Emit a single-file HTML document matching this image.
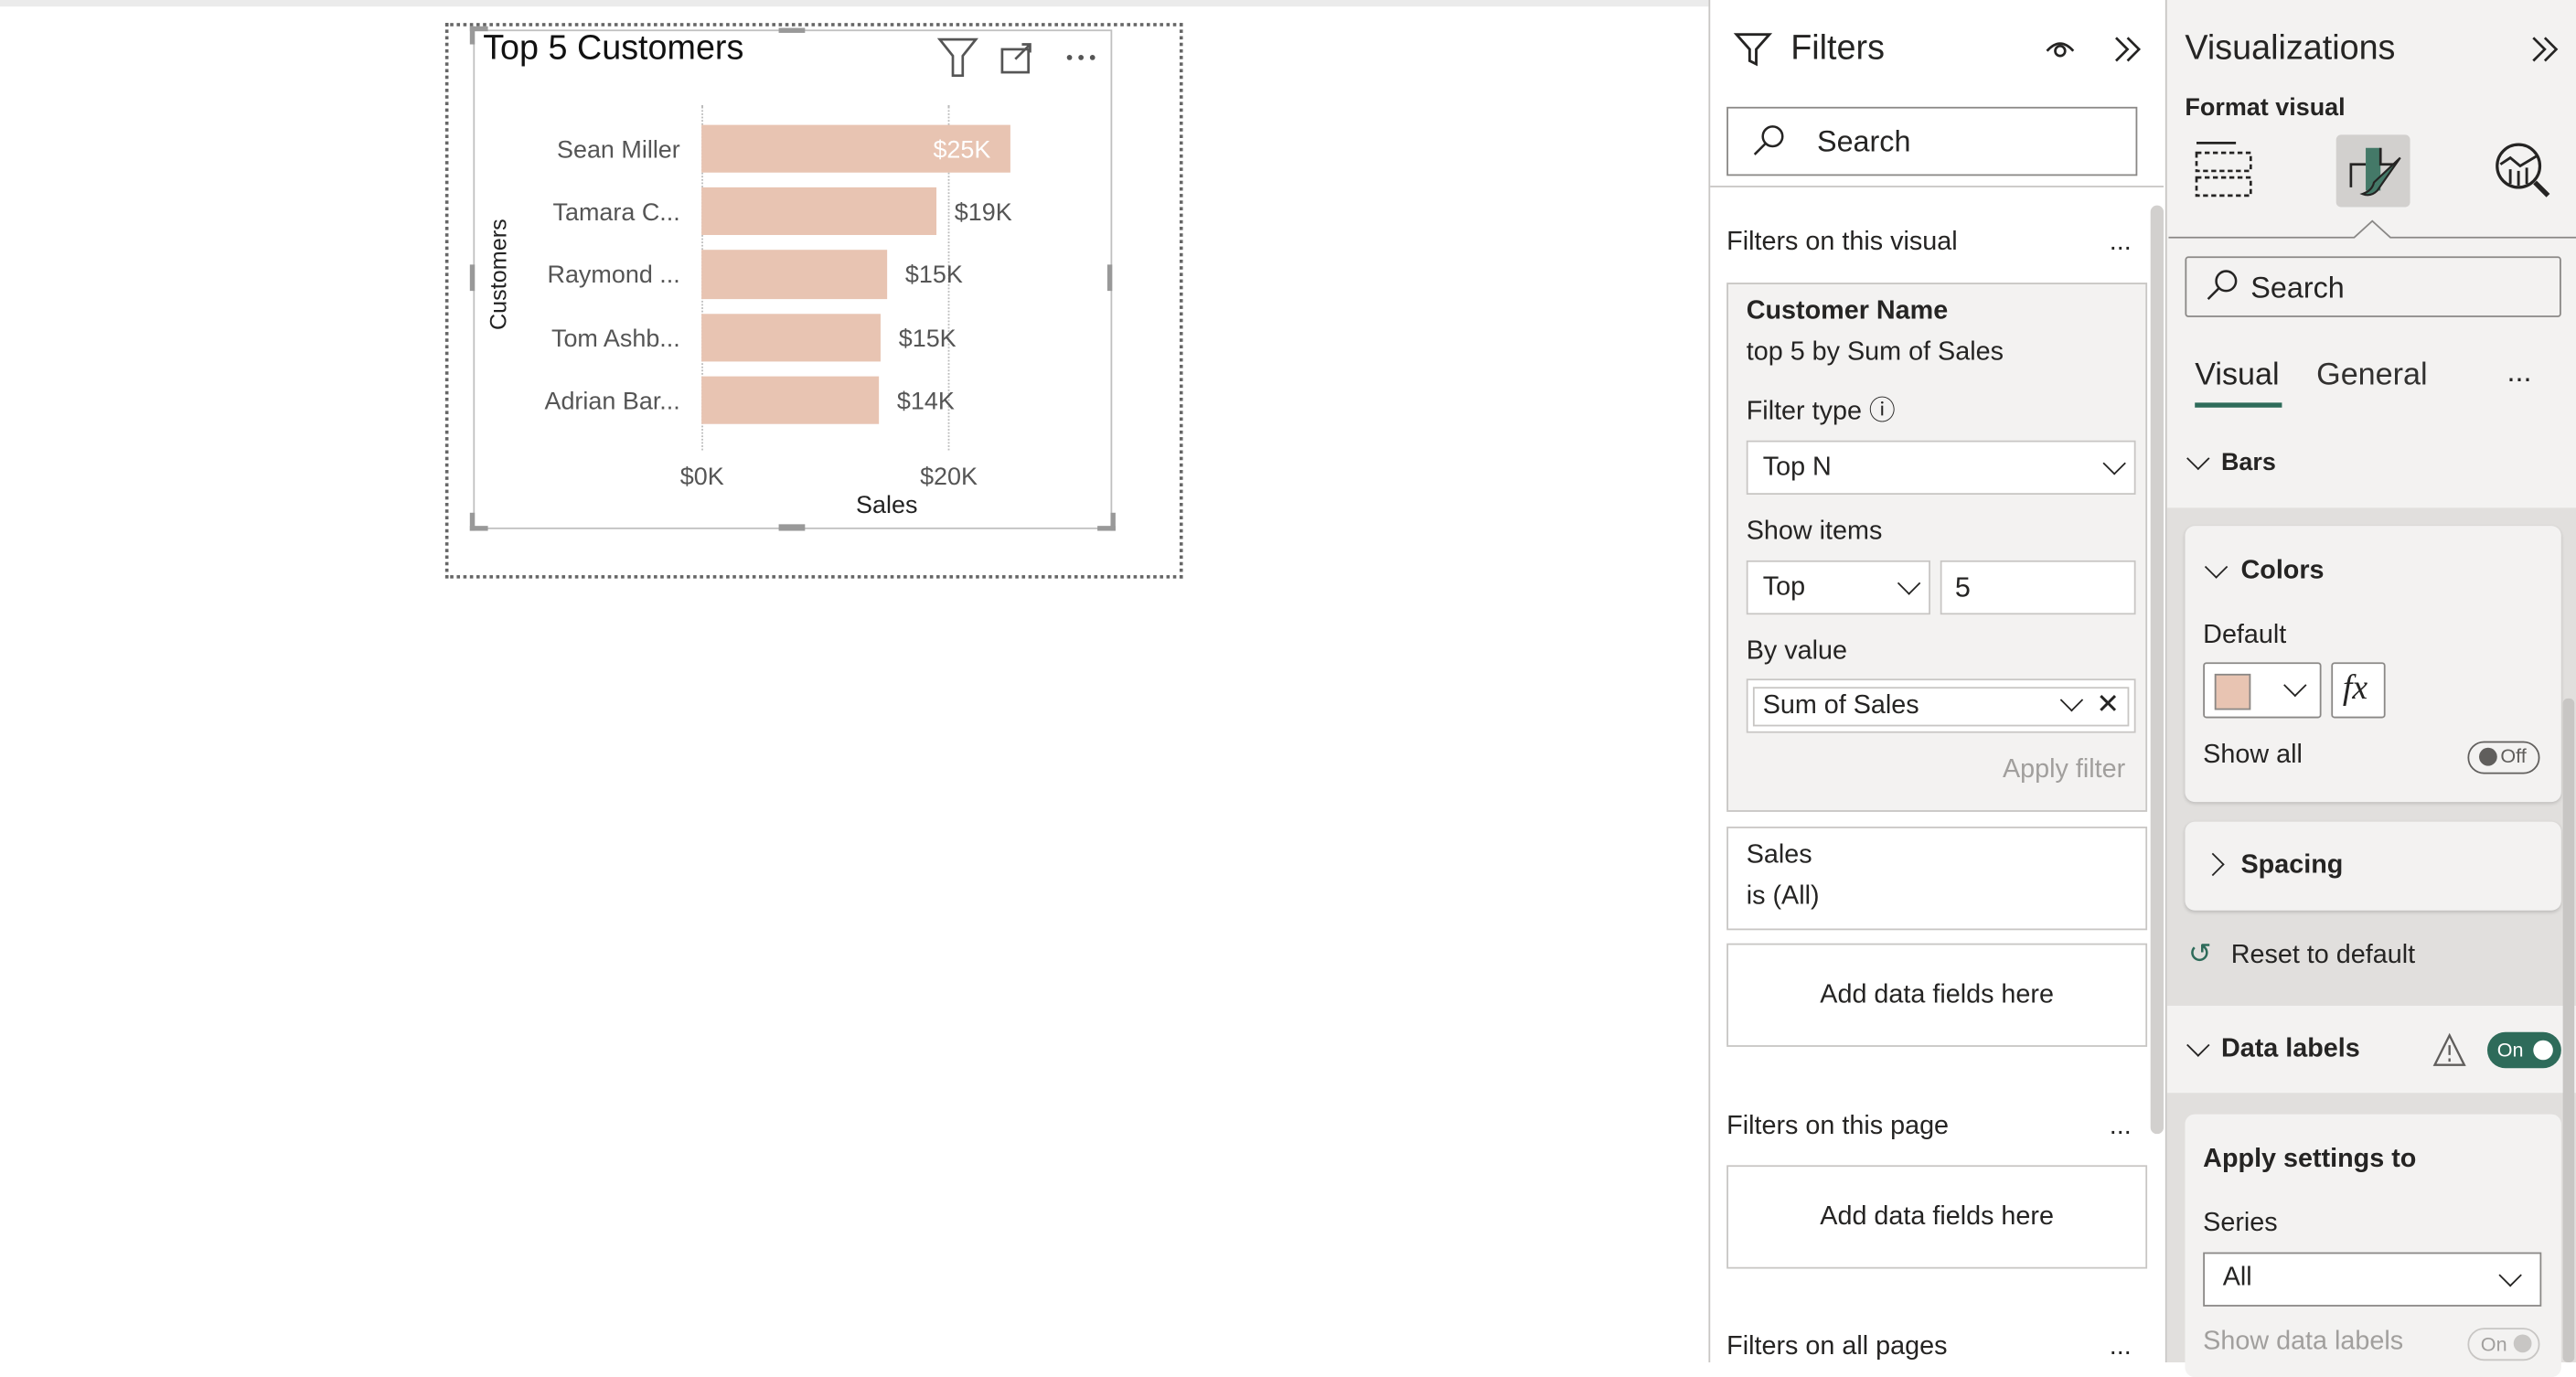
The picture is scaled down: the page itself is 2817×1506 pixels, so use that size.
<!DOCTYPE html>
<html><head><meta charset="utf-8"><style>
html,body{margin:0;padding:0;background:#fff;overflow:hidden;width:2817px;height:1490px}
#s{position:absolute;left:0;top:0;width:1568px;height:829px;transform:scale(1.79656,1.79735);transform-origin:0 0;font-family:"Liberation Sans",sans-serif;color:#252423}
.a{position:absolute}
.t{position:absolute;white-space:nowrap;line-height:1}
.n{font-family:"Liberation Sans Narrow","Liberation Sans",sans-serif}
.box{position:absolute;box-sizing:border-box;border:1px solid #c8c6c4;background:#fff}
.chev{position:absolute;width:9px;height:9px;border-right:1.5px solid #252423;border-bottom:1.5px solid #252423;transform:rotate(45deg)}
</style></head><body><div id="s">
<div class="a" style="left:0;top:0;width:1040px;height:4px;background:#ebebeb"></div>
<!-- chart -->
<div class="a" style="left:271px;top:14px;width:449px;height:338px;box-sizing:border-box;border:2px dotted #666"></div>
<div class="a" style="left:288px;top:18px;width:389px;height:304px;box-sizing:border-box;border:1px solid #c0c0c0"></div>
<div class="a" style="left:286px;top:16px;width:8px;height:8px;border-left:3px solid #999;border-top:3px solid #999"></div>
<div class="a" style="left:286px;top:312px;width:8px;height:8px;border-left:3px solid #999;border-bottom:3px solid #999"></div>
<div class="a" style="left:668px;top:312px;width:8px;height:8px;border-right:3px solid #999;border-bottom:3px solid #999"></div>
<div class="a" style="left:474px;top:17px;width:16px;height:3px;background:#999"></div>
<div class="a" style="left:474px;top:319px;width:16px;height:4px;background:#999"></div>
<div class="a" style="left:286px;top:161px;width:3px;height:16px;background:#999"></div>
<div class="a" style="left:674px;top:161px;width:3px;height:16px;background:#999"></div>
<div class="t n" style="left:294px;top:19px;font-size:21px;color:#111">Top 5 Customers</div>
<svg class="a" style="left:570px;top:22px" width="100" height="26"><path d="M2 2h22l-8 10v12h-6v-12z" fill="none" stroke="#555" stroke-width="1.5"/><rect x="40" y="8" width="16" height="14" fill="none" stroke="#555" stroke-width="1.5"/><path d="M48 14l9-9M52 5h5v5" fill="none" stroke="#555" stroke-width="1.5"/><circle cx="81" cy="13" r="1.6" fill="#555"/><circle cx="88" cy="13" r="1.6" fill="#555"/><circle cx="95" cy="13" r="1.6" fill="#555"/></svg>
<div class="a" style="left:427px;top:64px;height:210px;border-left:1px dotted #bbb"></div>
<div class="a" style="left:577px;top:64px;height:210px;border-left:1px dotted #bbb"></div>
<div class="a" style="left:427px;top:76px;width:188px;height:29px;background:#e8c4b2"></div>
<div class="a" style="left:427px;top:114px;width:143px;height:29px;background:#e8c4b2"></div>
<div class="a" style="left:427px;top:152px;width:113px;height:30px;background:#e8c4b2"></div>
<div class="a" style="left:427px;top:191px;width:109px;height:29px;background:#e8c4b2"></div>
<div class="a" style="left:427px;top:229px;width:108px;height:29px;background:#e8c4b2"></div>
<div class="t n" style="right:1154px;top:84px;font-size:15px;color:#555">Sean Miller</div>
<div class="t n" style="right:1154px;top:122px;font-size:15px;color:#555">Tamara C...</div>
<div class="t n" style="right:1154px;top:160px;font-size:15px;color:#555">Raymond ...</div>
<div class="t n" style="right:1154px;top:199px;font-size:15px;color:#555">Tom Ashb...</div>
<div class="t n" style="right:1154px;top:237px;font-size:15px;color:#555">Adrian Bar...</div>
<div class="t n" style="left:568px;top:84px;font-size:15px;color:#fff">$25K</div>
<div class="t n" style="left:581px;top:122px;font-size:15px;color:#555">$19K</div>
<div class="t n" style="left:551px;top:160px;font-size:15px;color:#555">$15K</div>
<div class="t n" style="left:547px;top:199px;font-size:15px;color:#555">$15K</div>
<div class="t n" style="left:546px;top:237px;font-size:15px;color:#555">$14K</div>
<div class="t n" style="left:414px;top:283px;font-size:15px;color:#555">$0K</div>
<div class="t n" style="left:560px;top:283px;font-size:15px;color:#555">$20K</div>
<div class="t n" style="left:521px;top:300px;font-size:15px;color:#222">Sales</div>
<div class="t" style="left:268px;top:160px;font-size:14px;color:#222;transform:rotate(-90deg);transform-origin:center;width:70px;text-align:center">Customers</div>

<!-- filters pane -->
<div class="a" style="left:1040px;top:0;width:278px;height:829px;background:#fff;border-left:1px solid #c8c6c4"></div>
<svg class="a" style="left:1055px;top:18px" width="26" height="24"><path d="M2 3h20l-8 9v9l-4-2v-7z" fill="none" stroke="#252423" stroke-width="1.6"/></svg>
<div class="t" style="left:1090px;top:19px;font-size:21px">Filters</div>
<svg class="a" style="left:1244px;top:20px" width="60" height="20"><path d="M2 11q8-9 16 0" fill="none" stroke="#252423" stroke-width="1.5"/><circle cx="10" cy="11" r="3" fill="none" stroke="#252423" stroke-width="1.5"/><path d="M44 3l7 7-7 7M51 3l7 7-7 7" fill="none" stroke="#252423" stroke-width="1.5"/></svg>
<div class="box" style="left:1051px;top:65px;width:250px;height:42px;border-color:#8a8886"></div>
<svg class="a" style="left:1066px;top:75px" width="22" height="22"><circle cx="13" cy="8" r="6" fill="none" stroke="#252423" stroke-width="1.4"/><path d="M9 12l-7 7" stroke="#252423" stroke-width="1.4"/></svg>
<div class="t" style="left:1106px;top:77px;font-size:18px">Search</div>
<div class="a" style="left:1041px;top:113px;width:276px;height:1px;background:#c8c6c4"></div>
<div class="a" style="left:1309px;top:125px;width:8px;height:565px;background:#d2d0ce;border-radius:4px"></div>
<div class="t" style="left:1051px;top:140px;font-size:16px">Filters on this visual</div>
<div class="t" style="left:1284px;top:140px;font-size:16px">...</div>
<div class="box" style="left:1051px;top:172px;width:256px;height:322px;background:#f3f2f1"></div>
<div class="t" style="left:1063px;top:182px;font-size:16px;font-weight:bold">Customer Name</div>
<div class="t" style="left:1063px;top:207px;font-size:16px">top 5 by Sum of Sales</div>
<div class="t" style="left:1063px;top:243px;font-size:16px">Filter type ⓘ</div>
<div class="box" style="left:1063px;top:268px;width:237px;height:33px"></div>
<div class="t" style="left:1073px;top:277px;font-size:16px">Top N</div>
<div class="chev" style="left:1282px;top:277px"></div>
<div class="t" style="left:1063px;top:316px;font-size:16px">Show items</div>
<div class="box" style="left:1063px;top:341px;width:112px;height:33px"></div>
<div class="t" style="left:1073px;top:350px;font-size:16px">Top</div>
<div class="chev" style="left:1157px;top:350px"></div>
<div class="box" style="left:1181px;top:341px;width:119px;height:33px"></div>
<div class="t" style="left:1190px;top:349px;font-size:17px">5</div>
<div class="t" style="left:1063px;top:389px;font-size:16px">By value</div>
<div class="box" style="left:1063px;top:413px;width:237px;height:33px"></div>
<div class="box" style="left:1067px;top:418px;width:229px;height:24px"></div>
<div class="t" style="left:1073px;top:422px;font-size:16px">Sum of Sales</div>
<div class="chev" style="left:1256px;top:421px"></div>
<div class="t" style="left:1276px;top:420px;font-size:17px">✕</div>
<div class="t" style="left:1219px;top:461px;font-size:16px;color:#a19f9d">Apply filter</div>
<div class="box" style="left:1051px;top:503px;width:256px;height:63px"></div>
<div class="t" style="left:1063px;top:513px;font-size:16px">Sales</div>
<div class="t" style="left:1063px;top:538px;font-size:16px">is (All)</div>
<div class="box" style="left:1051px;top:574px;width:256px;height:63px"></div>
<div class="t" style="left:1051px;top:598px;width:256px;text-align:center;font-size:16px">Add data fields here</div>
<div class="t" style="left:1051px;top:678px;font-size:16px">Filters on this page</div>
<div class="t" style="left:1284px;top:678px;font-size:16px">...</div>
<div class="box" style="left:1051px;top:709px;width:256px;height:63px"></div>
<div class="t" style="left:1051px;top:733px;width:256px;text-align:center;font-size:16px">Add data fields here</div>
<div class="t" style="left:1051px;top:812px;font-size:16px">Filters on all pages</div>
<div class="t" style="left:1284px;top:812px;font-size:16px">...</div>

<!-- viz pane -->
<div class="a" style="left:1318px;top:0;width:250px;height:829px;background:#f3f2f1;border-left:1px solid #c8c6c4"></div>
<div class="t" style="left:1330px;top:19px;font-size:21px">Visualizations</div>
<svg class="a" style="left:1540px;top:20px" width="20" height="20"><path d="M2 3l7 7-7 7M9 3l7 7-7 7" fill="none" stroke="#252423" stroke-width="1.5"/></svg>
<div class="t" style="left:1330px;top:58px;font-size:15px;font-weight:bold">Format visual</div>
<svg class="a" style="left:1334px;top:84px" width="40" height="40"><path d="M3 3h24" stroke="#252423" stroke-width="1.5"/><rect x="3" y="9" width="33" height="11" fill="none" stroke="#252423" stroke-width="1.5" stroke-dasharray="3 2"/><rect x="3" y="24" width="33" height="11" fill="none" stroke="#252423" stroke-width="1.5" stroke-dasharray="3 2"/></svg>
<div class="a" style="left:1422px;top:82px;width:45px;height:44px;background:#d2d0ce;border-radius:3px"></div>
<svg class="a" style="left:1428px;top:86px" width="36" height="36"><rect x="12" y="4" width="9" height="26" fill="#447968"/><path d="M3 28v-14h9M21 4v10h8" fill="none" stroke="#252423" stroke-width="1.5"/><path d="M33 10l-14 20q-4 4-9 2q6-2 7-7z" fill="#447968" stroke="#252423" stroke-width="1.2"/></svg>
<svg class="a" style="left:1518px;top:86px" width="38" height="36"><circle cx="15" cy="15" r="13" fill="none" stroke="#252423" stroke-width="1.8"/><path d="M4 14l6-4 6 5 10-6M10 17v9M15 18v9M20 16v10" fill="none" stroke="#252423" stroke-width="1.6"/><path d="M25 25l8 8" stroke="#252423" stroke-width="3"/></svg>
<svg class="a" style="left:1318px;top:132px" width="250" height="14"><path d="M2 12.5h113l11-10 11 10h113" fill="none" stroke="#8a8886" stroke-width="1"/></svg>
<div class="box" style="left:1330px;top:156px;width:229px;height:37px;border-color:#8a8886;background:#f3f2f1;border-radius:2px"></div>
<svg class="a" style="left:1342px;top:163px" width="22" height="22"><circle cx="13" cy="8" r="6" fill="none" stroke="#252423" stroke-width="1.4"/><path d="M9 12l-7 7" stroke="#252423" stroke-width="1.4"/></svg>
<div class="t" style="left:1370px;top:166px;font-size:18px">Search</div>
<div class="t" style="left:1336px;top:219px;font-size:19px">Visual</div>
<div class="a" style="left:1336px;top:245px;width:53px;height:3px;background:#2e6b5a"></div>
<div class="t" style="left:1410px;top:219px;font-size:19px;color:#323130">General</div>
<div class="t" style="left:1526px;top:217px;font-size:18px">...</div>
<div class="chev" style="left:1333px;top:274px"></div>
<div class="t" style="left:1352px;top:274px;font-size:15px;font-weight:bold">Bars</div>
<div class="a" style="left:1319px;top:309px;width:249px;height:303px;background:#e1dfdd"></div>
<div class="a" style="left:1330px;top:320px;width:229px;height:168px;background:#f3f2f1;border-radius:6px;box-shadow:0 1px 2px rgba(0,0,0,.15)"></div>
<div class="chev" style="left:1344px;top:340px"></div>
<div class="t" style="left:1364px;top:340px;font-size:16px;font-weight:bold">Colors</div>
<div class="t" style="left:1341px;top:379px;font-size:16px">Default</div>
<div class="box" style="left:1341px;top:403px;width:72px;height:34px;border-color:#8a8886;border-radius:2px"></div>
<div class="a" style="left:1348px;top:410px;width:20px;height:20px;background:#e8c4b2;border:1px solid #8a8886"></div>
<div class="chev" style="left:1392px;top:412px"></div>
<div class="box" style="left:1419px;top:403px;width:33px;height:34px;border-color:#8a8886;border-radius:2px"></div>
<div class="t" style="left:1426px;top:408px;font-size:21px;font-style:italic;font-family:'Liberation Serif',serif">fx</div>
<div class="t" style="left:1341px;top:452px;font-size:16px">Show all</div>
<div class="a" style="left:1502px;top:451px;width:44px;height:20px;box-sizing:border-box;border:1px solid #605e5c;border-radius:10px"></div>
<div class="a" style="left:1509px;top:455px;width:11px;height:11px;border-radius:6px;background:#605e5c"></div>
<div class="t" style="left:1522px;top:454px;font-size:12px;color:#605e5c">Off</div>
<div class="a" style="left:1330px;top:500px;width:229px;height:54px;background:#f3f2f1;border-radius:6px;box-shadow:0 1px 2px rgba(0,0,0,.15)"></div>
<div class="chev" style="left:1342px;top:521px;transform:rotate(-45deg)"></div>
<div class="t" style="left:1364px;top:519px;font-size:16px;font-weight:bold">Spacing</div>
<div class="t" style="left:1332px;top:572px;font-size:17px;color:#2e6b5a">↺</div>
<div class="t" style="left:1358px;top:574px;font-size:16px">Reset to default</div>
<div class="chev" style="left:1333px;top:631px"></div>
<div class="t" style="left:1352px;top:631px;font-size:16px;font-weight:bold">Data labels</div>
<svg class="a" style="left:1480px;top:628px" width="22" height="22"><path d="M11 2l9 18h-18z" fill="none" stroke="#605e5c" stroke-width="1.3"/><path d="M11 8v6M11 16v2" stroke="#605e5c" stroke-width="1.3"/></svg>
<div class="a" style="left:1514px;top:628px;width:45px;height:22px;background:#2e6b5a;border-radius:11px"></div>
<div class="t" style="left:1520px;top:633px;font-size:12px;color:#fff">On</div>
<div class="a" style="left:1542px;top:633px;width:12px;height:12px;border-radius:6px;background:#fff"></div>
<div class="a" style="left:1319px;top:665px;width:249px;height:164px;background:#e1dfdd"></div>
<div class="a" style="left:1330px;top:678px;width:229px;height:160px;background:#f3f2f1;border-radius:6px"></div>
<div class="t" style="left:1341px;top:698px;font-size:16px;font-weight:bold">Apply settings to</div>
<div class="t" style="left:1341px;top:737px;font-size:16px">Series</div>
<div class="box" style="left:1341px;top:762px;width:206px;height:33px;border-color:#8a8886"></div>
<div class="t" style="left:1353px;top:770px;font-size:16px">All</div>
<div class="chev" style="left:1523px;top:771px"></div>
<div class="t" style="left:1341px;top:809px;font-size:16px;color:#a19f9d">Show data labels</div>
<div class="a" style="left:1502px;top:808px;width:44px;height:20px;box-sizing:border-box;border:1px solid #c8c6c4;border-radius:10px"></div>
<div class="t" style="left:1510px;top:812px;font-size:12px;color:#a19f9d">On</div>
<div class="a" style="left:1530px;top:812px;width:11px;height:11px;border-radius:6px;background:#c8c6c4"></div>
<div class="a" style="left:1560px;top:425px;width:7px;height:404px;background:#c8c6c4;border-radius:3px"></div>
</div></body></html>
